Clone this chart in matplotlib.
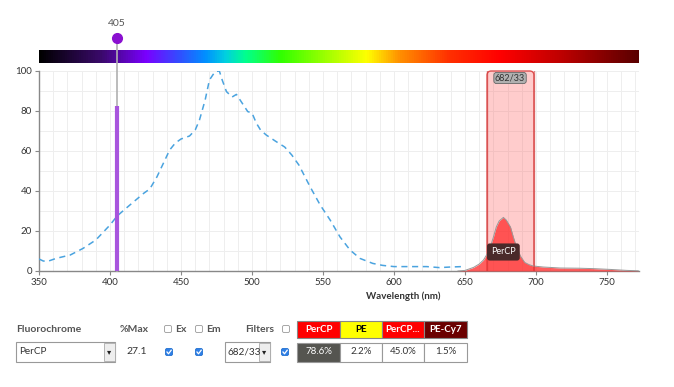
import numpy as np
import matplotlib
matplotlib.use("Agg")
import matplotlib.pyplot as plt
from matplotlib.colors import LinearSegmentedColormap
from matplotlib.patches import FancyBboxPatch, Rectangle

plt.rcParams['font.family'] = ['Lato', 'DejaVu Sans']

# excitation spectrum (dashed), % of max
ex_wl = [350, 353, 356, 362, 372, 381, 390, 400, 405, 414, 424, 428, 433, 437,
         442, 446, 450, 456, 460, 463, 467, 470, 474, 477, 479, 482, 486, 489,
         493, 497, 500, 503, 506, 510, 517, 523, 528, 533, 541, 548, 555, 562,
         569, 576, 585, 592, 600, 614, 623, 632, 640, 648]
ex_val = [6.0, 5.0, 4.8, 6.3, 8.0, 11.3, 15.5, 23.0, 27.5, 33.0, 39.0, 41.0,
          47.0, 53.0, 60.5, 64.0, 66.0, 67.5, 70.5, 75.5, 85.5, 95.5, 99.7,
          100.0, 95.5, 89.7, 87.0, 88.3, 84.0, 79.7, 79.0, 74.0, 70.5, 68.0,
          64.7, 62.0, 58.0, 53.0, 42.0, 33.0, 25.5, 17.0, 10.5, 6.3, 3.8, 2.8,
          2.2, 2.2, 2.2, 1.7, 2.0, 2.2]

# emission spectrum scaled by excitation efficiency
em_wl = [645, 650, 656, 660, 663, 666, 668, 670, 672, 674, 677, 679, 682, 684,
         686, 689, 692, 695, 698, 705, 717, 730, 740, 752, 764, 772]
em_val = [0.0, 0.3, 1.8, 3.5, 5.5, 9.0, 12.5, 17.0, 22.0, 25.0, 26.8, 25.5,
          22.0, 17.0, 12.5, 7.5, 4.3, 3.2, 2.5, 2.0, 1.5, 1.4, 1.2, 0.8, 0.3,
          0.1]

laser_nm = 405
laser_pct = 82.5
filter_center, filter_width = 682, 33
fluor_name = 'PerCP'
pct_max = '27.1'
det_names = ['PerCP', 'PE', 'PerCP...', 'PE-Cy7']
det_colors = ['#ff0000', '#ffff00', '#ff0000', '#6b0000']
det_text = ['white', 'black', 'white', 'white']
det_values = ['78.6%', '2.2%', '45.0%', '1.5%']

spec_nm = [350, 393, 425, 449, 467, 481, 495, 520, 562, 581, 604, 639, 675, 717, 772.5]
spec_col = ['#000000', '#3a0a6a', '#7a00ff', '#3050ff', '#0090ff', '#00d0e0',
            '#00ff90', '#30ff00', '#c0ff00', '#ffff00', '#ff9000', '#ff3000',
            '#ff0000', '#c00000', '#5a0000']

fig = plt.figure(figsize=(6.74, 3.87), dpi=100)
ax = fig.add_axes([39 / 674, 1 - 271 / 387, 600 / 674, 200 / 387])

x0, x1 = 350, 772.5
ax.set_xlim(x0, x1)
ax.set_ylim(0, 100)

# spectrum bar above the plot
stops = [(w - x0) / (x1 - x0) for w in spec_nm]
cmap = LinearSegmentedColormap.from_list('spec', list(zip(stops, spec_col)))
grad = np.linspace(0, 1, 512)[None, :]
im = ax.imshow(grad, cmap=cmap, aspect='auto', extent=(x0, x1, 104, 110.5),
               zorder=1)
im.set_clip_on(False)

# grid
ax.set_xticks(np.arange(350, 773, 10), minor=True)
ax.set_yticks(np.arange(0, 101, 10), minor=True)
ax.grid(which='both', color='#eeeeee', lw=0.7, zorder=0)
ax.set_xticks([350, 400, 450, 500, 550, 600, 650, 700, 750])
ax.set_yticks([0, 20, 40, 60, 80, 100])
ax.tick_params(which='minor', length=0)
ax.tick_params(which='major', length=3, width=0.8, color='#888888',
               labelsize=7, labelcolor='#333333', pad=2)
for s in ['top', 'right']:
    ax.spines[s].set_visible(False)
for s in ['left', 'bottom']:
    ax.spines[s].set_color('#888888')
    ax.spines[s].set_linewidth(1.0)
ax.set_axisbelow(True)

ax.set_xlabel('Wavelength (nm)', fontsize=7, fontweight='bold', color='#333333')
ax.xaxis.set_label_coords((403 - 39) / 600, -0.1)

# excitation
ax.plot(ex_wl, ex_val, color='#4aa3df', lw=1.1, ls=(0, (4, 3)), zorder=3)

# filter band
lo = filter_center - filter_width / 2
band = FancyBboxPatch((lo, -10), filter_width, 110,
                      boxstyle='round,pad=0,rounding_size=3',
                      mutation_aspect=0.71, fc=(1, 0.35, 0.35, 0.3),
                      ec='#e05050', lw=1.0, zorder=3)
ax.add_patch(band)
band.set_clip_path(Rectangle((x0, 0), x1 - x0, 110, transform=ax.transData))

# emission on top of the band
ax.fill_between(em_wl, em_val, color='#ff2a2a', alpha=0.75, lw=0, zorder=4)
ax.plot(em_wl, em_val, color='#999999', lw=0.7, zorder=4)
ax.plot([lo, lo], [0, 100], color='#d04040', lw=1.0, zorder=4.5, alpha=0.6)
ax.plot([lo + filter_width] * 2, [0, 100], color='#d04040', lw=1.0,
        zorder=4.5, alpha=0.6)

ax.text(filter_center - 0.3, 96.5, f'{filter_center}/{filter_width}', fontsize=6.5,
        color='#333333', ha='center', va='center', zorder=6,
        bbox=dict(boxstyle='round,pad=0.12,rounding_size=0.3', fc='#b0b0b0',
                  ec='#666666', lw=0.6))
ax.text(677, 9.5, fluor_name, fontsize=6.5, color='white', ha='center',
        va='center', zorder=6,
        bbox=dict(boxstyle='round,pad=0.45,rounding_size=0.3', fc='#4a2a2a',
                  ec='none'))

# laser line
ax.plot([laser_nm, laser_nm], [0, 116.5], color='#b0b0b0', lw=1.2,
        zorder=5, clip_on=False)
ax.plot([laser_nm, laser_nm], [0, laser_pct], color='#a855dd', lw=3,
        zorder=5, solid_capstyle='butt')
ax.plot([laser_nm], [116.5], 'o', color='#8a10d0', ms=7, zorder=6,
        clip_on=False)
ax.text(laser_nm, 121.5, str(laser_nm), fontsize=7.5, color='#555555',
        ha='center', va='bottom')

# ---- control row below the plot (pixel coords) ----
ui = fig.add_axes([0, 0, 1, 1])
ui.set_xlim(0, 674)
ui.set_ylim(387, 0)
ui.axis('off')

lab = dict(fontsize=7.5, fontweight='bold', color='#555555', va='center')
ui.text(16, 329, 'Fluorochrome', **lab)
ui.text(120, 329, '%Max', **lab)
ui.text(175, 329, 'Ex', **lab)
ui.text(206, 329, 'Em', **lab)
ui.text(245, 329, 'Filters', **lab)


def checkbox(x, y, checked):
    if checked:
        ui.add_patch(FancyBboxPatch((x - 3.5, y - 3.5), 7, 7,
                                    boxstyle='round,pad=0,rounding_size=1.5',
                                    fc='#2f7fe6', ec='#2070d0', lw=0.6))
        ui.plot([x - 2, x - 0.5, x + 2.2], [y, y + 1.8, y - 1.8], color='white',
                lw=0.9)
    else:
        ui.add_patch(FancyBboxPatch((x - 3.5, y - 3.5), 7, 7,
                                    boxstyle='round,pad=0,rounding_size=1.5',
                                    fc='white', ec='#999999', lw=0.6))


checkbox(168, 329, False)
checkbox(199, 329, False)
checkbox(286, 329, False)
checkbox(169, 352, True)
checkbox(199, 352, True)
checkbox(285, 352, True)


def dropdown(x0_, x1_, text):
    ui.add_patch(Rectangle((x0_, 342), x1_ - x0_, 19.5, fc='white',
                           ec='#999999', lw=0.8))
    ui.add_patch(Rectangle((x1_ - 11, 343), 10.5, 17.5, fc='#eeeeee',
                           ec='#aaaaaa', lw=0.6))
    ui.text(x1_ - 5.7, 352, '▾', fontsize=6, color='#222222', ha='center',
            va='center', family='DejaVu Sans')
    ui.text(x0_ + 3, 352, text, fontsize=7.2, color='#333333', va='center')


dropdown(16, 115, fluor_name)
dropdown(225, 270, f'{filter_center}/{filter_width}')
ui.text(137, 352, pct_max, fontsize=7.5, color='#333333', ha='center',
        va='center')

edges = [297, 340, 382, 424, 467]
for i, name in enumerate(det_names):
    xa, xb = edges[i], edges[i + 1]
    ui.add_patch(Rectangle((xa, 321), xb - xa, 17, fc=det_colors[i],
                           ec='#888888', lw=0.8))
    ui.text((xa + xb) / 2, 329.5, name, fontsize=7, fontweight='bold',
            color=det_text[i], ha='center', va='center')
    fc = '#555550' if i == 0 else 'white'
    tc = 'white' if i == 0 else '#333333'
    ui.add_patch(Rectangle((xa, 343), xb - xa, 18.5, fc=fc, ec='#999999',
                           lw=0.8))
    ui.text((xa + xb) / 2, 352, det_values[i], fontsize=7, color=tc,
            ha='center', va='center')

fig.savefig('out.png', dpi=100, facecolor='white')
